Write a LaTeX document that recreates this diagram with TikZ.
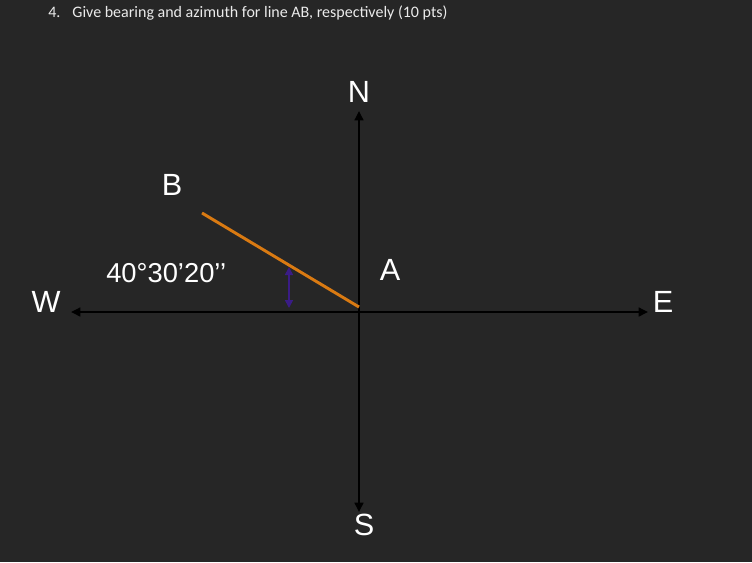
\documentclass[tikz,border=0pt]{standalone}
\usepackage{fontspec}
\setmainfont{Liberation Sans}
\newfontfamily\titlefont{Carlito}
\usetikzlibrary{arrows.meta}
\definecolor{bg}{HTML}{262626}
\definecolor{orangeline}{HTML}{D97A12}
\definecolor{purplearrow}{HTML}{3A1C86}
\begin{document}
\begin{tikzpicture}[x=0.75pt,y=-0.75pt,
  axis/.style={draw=black,line width=2.1pt,-{Triangle[length=7pt,width=6.5pt]}},
  dirlabel/.style={text=white,font=\fontsize{23}{26}\selectfont,inner sep=0pt},
  ptlabel/.style={text=white,font=\fontsize{23}{26}\selectfont,inner sep=0pt}]
\fill[bg] (0,0) rectangle (752,562);
\useasboundingbox (0,0) rectangle (752,562);
\node[anchor=west,text=white!92!black,font=\titlefont\fontsize{12}{14}\selectfont,inner sep=0pt] (title) at (48,13) {4.\hspace{9pt}Give bearing and azimuth for line AB, respectively (10 pts)};
\coordinate (A) at (359,312);
\coordinate (Ntip) at (359,111);
\coordinate (Stip) at (359,512);
\coordinate (Wtip) at (71,312);
\coordinate (Etip) at (648,312);
\draw[axis] (A) -- (Ntip);
\draw[axis] (A) -- (Stip);
\draw[axis] (A) -- (Wtip);
\draw[axis] (A) -- (Etip);
\coordinate (Aend) at (359,307);
\coordinate (Bend) at (202,213);
\draw[orangeline,line width=2.2pt] (Aend) -- (Bend);
\coordinate (ptop) at (289,267);
\coordinate (pbot) at (289,308);
\draw[purplearrow,line width=1.2pt,{Triangle[length=6pt,width=6pt]}-{Triangle[length=6pt,width=6pt]}] (ptop) -- (pbot);
\node[dirlabel] (N) at (359,92) {N};
\node[dirlabel] (S) at (364,525) {S};
\node[dirlabel] (W) at (46,302) {W};
\node[dirlabel] (E) at (663,302) {E};
\node[ptlabel] (B) at (172,185) {B};
\node[ptlabel] (Alab) at (390,270) {A};
\node[text=white,font=\fontsize{20.5}{24}\selectfont,inner sep=0pt,anchor=west] (ang) at (106,273) {40°30’20’’};
\end{tikzpicture}
\end{document}
